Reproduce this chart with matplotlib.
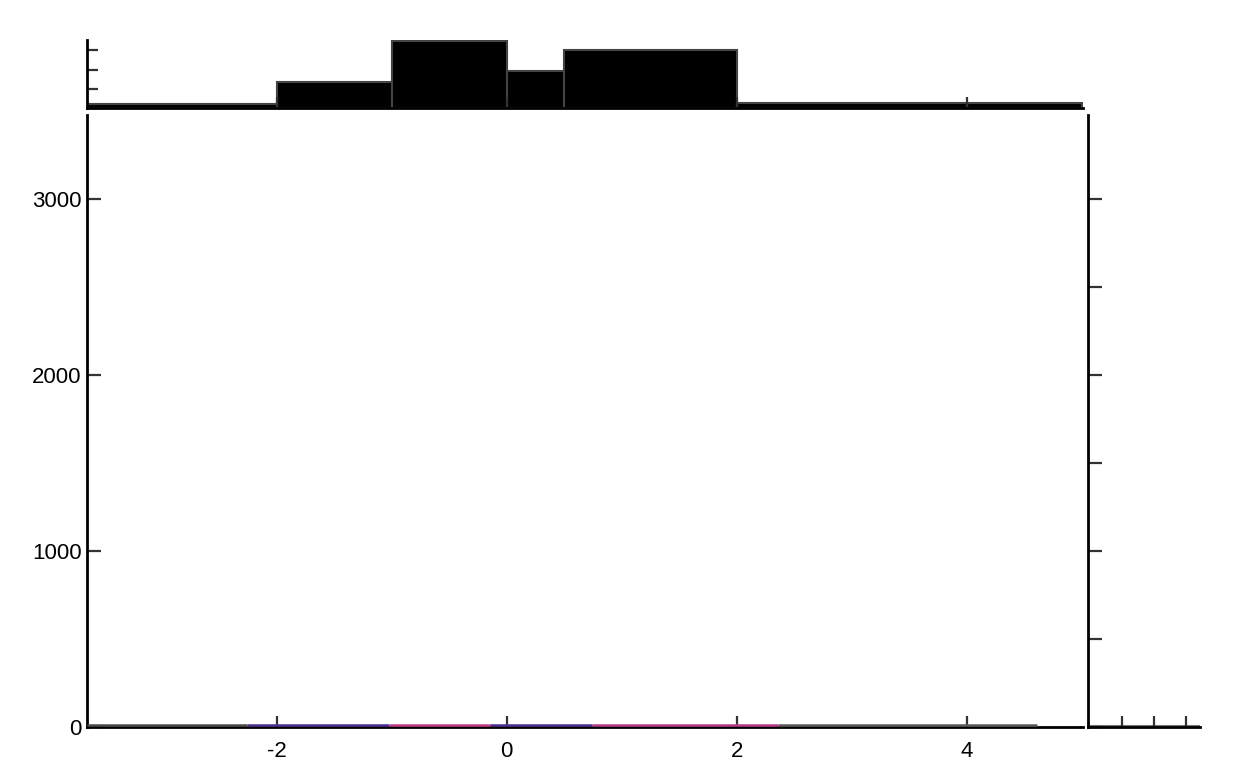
import matplotlib
matplotlib.use("Agg")
import matplotlib.pyplot as plt
import numpy as np

plt.rcParams['font.family'] = ['Liberation Sans', 'DejaVu Sans']
plt.rcParams['axes.unicode_minus'] = False

# ---- data ----
# top marginal histogram
top_bin_edges = [-3.65, -2.0, -1.0, 0.0, 0.5, 2.0, 4.0, 5.0]
top_counts = [0.22, 1.35, 3.47, 1.93, 3.02, 0.26, 0.26]

# main-panel near-zero colored line (segments)
line_edges = [-3.65, -2.26, -1.02, -0.15, 0.74, 2.36, 4.61]
line_values = [11, 11, 11, 11, 11, 11]
line_colors = ['#4a4a4a', '#4b2d8c', '#c23a84', '#4b2d8c', '#b8398a', '#5a5a5a']

# right marginal (horizontal) histogram near zero
right_bins = [0]
right_counts = [3.5]

main_yticks = [0, 1000, 2000, 3000]
main_xticks = [-2, 0, 2, 4]
right_yticks = [0, 500, 1000, 1500, 2000, 2500, 3000]
right_xticks = [1, 2, 3]
top_yticks = [0, 1, 2, 3]

W, H = 1240, 762
fig = plt.figure(figsize=(W / 100, H / 100), dpi=100)

def frac(l, t, r, b):
    return [l / W, 1 - b / H, (r - l) / W, (b - t) / H]

ax = fig.add_axes(frac(87, 115, 1083, 727))
axt = fig.add_axes(frac(87, 40, 1083, 108.3))
axr = fig.add_axes(frac(1088, 115, 1200, 727))

spine_lw = 2.0
tick_col = '#333333'

def style(a):
    for s in ['top', 'right']:
        a.spines[s].set_visible(False)
    for s in ['left', 'bottom']:
        a.spines[s].set_linewidth(spine_lw)
        a.spines[s].set_color('black')
    a.tick_params(direction='in', width=1.6, color=tick_col, length=9,
                  labelsize=16, labelcolor='black')

# main
style(ax)
for i in range(len(line_values)):
    ax.plot([line_edges[i], line_edges[i + 1]], [line_values[i], line_values[i]],
            color=line_colors[i], lw=1.8, solid_capstyle='butt', zorder=3,
            clip_on=False)
ax.set_xlim(-3.65, 5.01)
ax.set_ylim(0, 3477)
ax.set_xticks(main_xticks)
ax.set_yticks(main_yticks)
ax.tick_params(axis='x', pad=10, length=8)
ax.tick_params(axis='y', pad=4, length=10)

# top marginal
style(axt)
widths = np.diff(top_bin_edges)
axt.bar(top_bin_edges[:-1], top_counts, width=widths, align='edge',
        color='black', edgecolor='#444444', linewidth=1.5)
axt.set_xlim(-3.65, 5.01)
axt.set_ylim(0, 3.54)
axt.set_xticks(main_xticks)
axt.set_yticks(top_yticks)
axt.tick_params(labelleft=False, labelbottom=False)
axt.tick_params(axis='y', length=8)
axt.tick_params(axis='x', length=8)

# right marginal
style(axr)
axr.barh(right_bins, right_counts, height=14, align='edge', left=0,
         color='#5a5a5a', edgecolor='#777777', linewidth=0.8)
axr.set_ylim(0, 3477)
axr.set_xlim(-0.06, 3.45)
axr.set_yticks(right_yticks)
axr.set_xticks(right_xticks)
axr.tick_params(labelleft=False, labelbottom=False)
axr.tick_params(axis='y', length=10)
axr.tick_params(axis='x', length=8)

fig.savefig('out.png', dpi=100)
